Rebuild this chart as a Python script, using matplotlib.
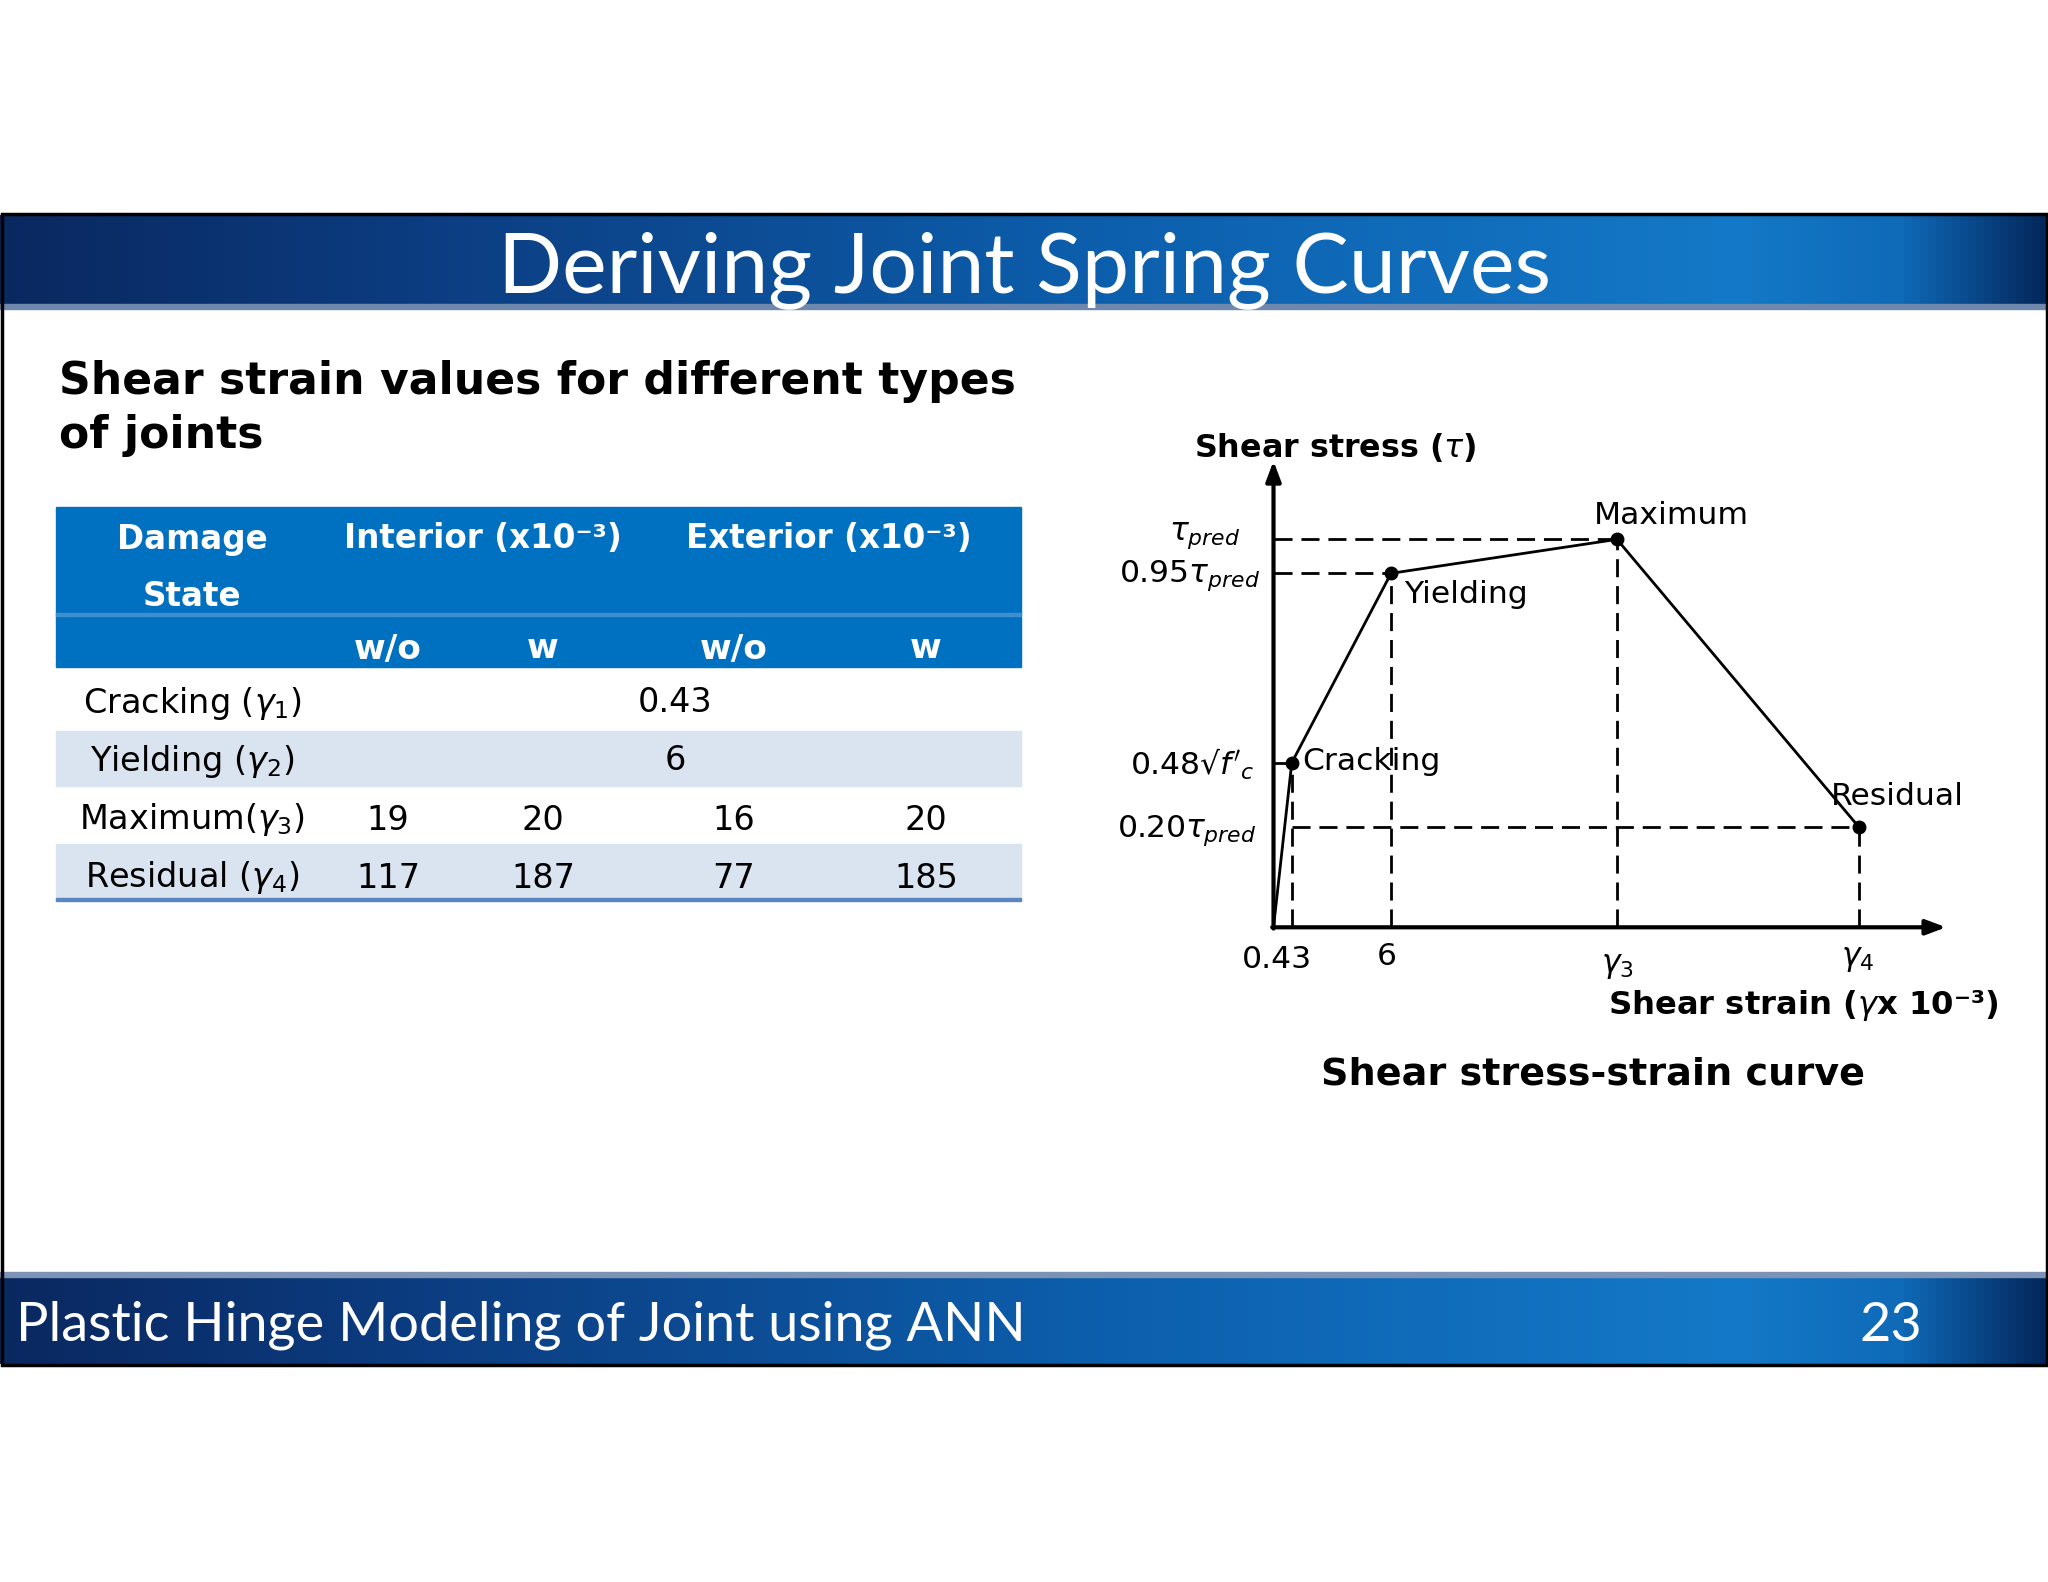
import numpy as np
import matplotlib
matplotlib.use("Agg")
import matplotlib.pyplot as plt
from matplotlib.colors import LinearSegmentedColormap
from matplotlib.patches import Rectangle

plt.rcParams['mathtext.fontset'] = 'dejavusans'

# ---- slide text ----
title = "Deriving Joint Spring Curves"
footer = "Plastic Hinge Modeling of Joint using ANN"
page_no = "23"
heading = ["Shear strain values for different types", "of joints"]

# ---- table data ----
group_headers = ["Interior (x10\u207b\u00b3)", "Exterior (x10\u207b\u00b3)"]
sub_headers = ["w/o", "w", "w/o", "w"]
row_labels = [r"Cracking ($\gamma_1$)", r"Yielding ($\gamma_2$)",
              r"Maximum($\gamma_3$)", r"Residual ($\gamma_4$)"]
shared_values = ["0.43", "6"]
max_values = [19, 20, 16, 20]
res_values = [117, 187, 77, 185]

# ---- schematic curve (diagram units, not to scale) ----
pt_names = ["", "Cracking", "Yielding", "Maximum", "Residual"]
pt_x = [0, 14, 90, 263, 448]
pt_y = [0, 126, 271, 297, 77]
ytick_labels = [r"$\tau_{pred}$", r"0.95$\tau_{pred}$", r"0.48√$f'_c$", r"0.20$\tau_{pred}$"]
xtick_labels = ["0.43", "6", r"$\gamma_3$", r"$\gamma_4$"]

W, H = 2048, 1582
fig = plt.figure(figsize=(W / 100, H / 100), dpi=100)
bg = fig.add_axes([0, 0, 1, 1])
bg.set_xlim(0, W)
bg.set_ylim(H, 0)
bg.axis('off')
renderer = fig.canvas.get_renderer()


def fit(t, width):
    bb = t.get_window_extent(renderer)
    t.set_fontsize(t.get_fontsize() * width / bb.width)
    return t.get_fontsize()


# gradient bars
cmap = LinearSegmentedColormap.from_list("bar", [
    (0.0, "#0a2860"), (0.2, "#0c3c80"), (0.55, "#0d60ae"),
    (0.85, "#1479c8"), (0.93, "#0f6ab8"), (1.0, "#03275c")])
grad = np.linspace(0, 1, 512)[None, :]
bg.imshow(grad, cmap=cmap, extent=(0, W, 304, 215), aspect='auto', zorder=1)
bg.imshow(grad, cmap=cmap, extent=(0, W, 1364, 1277), aspect='auto', zorder=1)
bg.add_patch(Rectangle((0, 304), W, 5, color="#6d87ad", zorder=2))
bg.add_patch(Rectangle((0, 1272), W, 5, color="#7c93b5", zorder=2))
bg.add_patch(Rectangle((1.5, 214), W - 3, 1151, fill=False, ec="black", lw=2.5, zorder=3))

t = bg.text(1024, 292, title, color="white", family="Lato", fontsize=60, ha="center", va="baseline", zorder=4)
fit(t, 1055)
t = bg.text(16, 1341, footer, color="white", family="Lato", fontsize=40, ha="left", va="baseline", zorder=4)
fs_footer = fit(t, 1010)
bg.text(1891, 1341, page_no, color="white", family="Lato", fontsize=fs_footer, ha="center", va="baseline", zorder=4)

t = bg.text(59, 394, heading[0], fontsize=31, weight="bold", ha="left", va="baseline")
fs_head = fit(t, 957)
bg.text(59, 448, heading[1], fontsize=fs_head, weight="bold", ha="left", va="baseline")

# ---- table ----
tl, tr = 56, 1021
col_x = [388, 543, 734, 926]
row_top = [667, 731, 786, 844]
row_bot = [731, 786, 844, 900]
bg.add_patch(Rectangle((tl, 507), tr - tl, 160, color="#0070c0", zorder=2))
bg.add_patch(Rectangle((tl, 613), tr - tl, 3, color="#3e8fd0", zorder=3))
for i in range(4):
    if i % 2 == 1:
        bg.add_patch(Rectangle((tl, row_top[i]), tr - tl, row_bot[i] - row_top[i], color="#dae3f0", zorder=2))
bg.add_patch(Rectangle((tl, 898), tr - tl, 3, color="#5a86c0", zorder=3))

hk = dict(color="white", weight="bold", ha="center", va="center", zorder=4)
t = bg.text(483, 539, group_headers[0], fontsize=22, **hk)
fs_hdr = fit(t, 278)
bg.text(829, 539, group_headers[1], fontsize=fs_hdr, **hk)
bg.text(192, 539, "Damage", fontsize=fs_hdr, **hk)
bg.text(192, 597, "State", fontsize=fs_hdr, **hk)
for x, s in zip(col_x, sub_headers):
    bg.text(x, 649, s, fontsize=fs_hdr * 1.05, **hk)

rk = dict(color="black", ha="center", va="center", zorder=4)
row_y = [703, 761, 820, 878]
t = bg.text(192, row_y[0], row_labels[0], fontsize=22, **rk)
fs_row = fit(t, 219)
for y, s in zip(row_y[1:], row_labels[1:]):
    bg.text(192, y, s, fontsize=fs_row, **rk)
for y, s in zip(row_y[:2], shared_values):
    bg.text(675, y, s, fontsize=fs_row, **rk)
for x, a, b in zip(col_x, max_values, res_values):
    bg.text(x, row_y[2], str(a), fontsize=fs_row, **rk)
    bg.text(x, row_y[3], str(b), fontsize=fs_row, **rk)

# ---- stress-strain diagram ----
ax = fig.add_axes([1273.5 / W, 1 - 927.3 / H, 672.6 / W, 466.3 / H])
ax.set_xlim(0, 515)
ax.set_ylim(0, 357)
ax.axis('off')

dash = dict(color="black", lw=2.0, ls=(0, (6.5, 3.2)), zorder=1)
ax.plot([0, pt_x[3]], [pt_y[3]] * 2, **dash)
ax.plot([0, pt_x[2]], [pt_y[2]] * 2, **dash)
ax.plot([0, pt_x[1]], [pt_y[1]] * 2, **dash)
ax.plot([pt_x[1], pt_x[4]], [pt_y[4]] * 2, **dash)
for i in range(1, 5):
    ax.plot([pt_x[i]] * 2, [0, pt_y[i]], **dash)

ax.plot(pt_x, pt_y, color="black", lw=2.0, zorder=2)
ax.plot(pt_x[1:], pt_y[1:], "o", color="black", ms=9, zorder=3)

arr = dict(arrowstyle="-|>,head_length=1.2,head_width=0.45", color="black", lw=3, shrinkA=0, shrinkB=0)
ax.annotate("", xy=(515, 0), xytext=(-1, 0), arrowprops=arr, annotation_clip=False)
ax.annotate("", xy=(0, 357), xytext=(0, -1), arrowprops=arr, annotation_clip=False)

t = ax.text(245, 315, pt_names[3], fontsize=22, ha="left", va="center")
fs_lab = fit(t, 154)
ax.text(100, 255, pt_names[2], fontsize=fs_lab, ha="left", va="center")
ax.text(22, 127, pt_names[1], fontsize=fs_lab, ha="left", va="center")
ax.text(427, 100, pt_names[4], fontsize=fs_lab, ha="left", va="center")

ytick_pos = [(-25, 300), (-10, 269), (-15, 125), (-13, 74)]
for (x, y), s in zip(ytick_pos, ytick_labels):
    ax.text(x, y, s, fontsize=fs_lab, ha="right", va="center")
xtick_pos = [(3, -25), (87, -22), (263, -30), (447, -25)]
for (x, y), s in zip(xtick_pos, xtick_labels):
    ax.text(x, y, s, fontsize=fs_lab, ha="center", va="center")

t = ax.text(-61, 367, r"Shear stress ($\tau$)", fontsize=22, weight="bold", ha="left", va="center")
fit(t, 282)
t = ax.text(256, -60, "Shear strain ($\\gamma$x 10\u207b\u00b3)", fontsize=22, weight="bold", ha="left", va="center")
fit(t, 390)
t = ax.text(245, -113, "Shear stress-strain curve", fontsize=25, weight="bold", ha="center", va="center")
fit(t, 543)

fig.savefig("out.png", dpi=100)
